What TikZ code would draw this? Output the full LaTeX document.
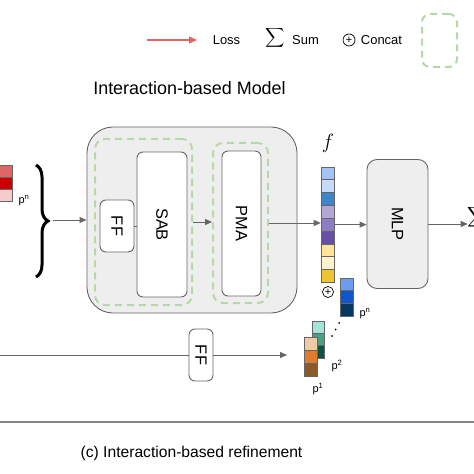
\documentclass[tikz,border=0pt]{standalone}
\usepackage{fontspec}
\setmainfont{Liberation Sans}
\usetikzlibrary{arrows.meta, calc, decorations.pathreplacing}

\definecolor{boxgray}{HTML}{EEEEEE}
\definecolor{linegray}{HTML}{666666}
\definecolor{dashgreen}{HTML}{B6D7A8}
\definecolor{lossred}{HTML}{E06666}

\newcommand{\bigsum}[1]{\scalebox{#1}{$\displaystyle\sum$}}

\tikzset{
  blk/.style={
    rectangle, draw=linegray, line width=0.9bp, rounded corners=6bp,
    fill=white, inner sep=0pt,
    font=\fontsize{16.5}{18}\selectfont
  },
  grp/.style={
    rectangle, draw=dashgreen, line width=2bp, rounded corners=10bp,
    dash pattern=on 7bp off 5bp, inner sep=0pt
  },
  cell/.style={
    rectangle, draw=linegray, line width=0.6bp, inner sep=0pt,
    minimum width=13bp, minimum height=12.8bp
  },
  arr/.style  = {-{Triangle[length=7bp, width=6bp]}, draw=linegray, line width=0.9bp},
  lossarr/.style = {-{Triangle[length=8bp, width=7bp]}, draw=lossred, line width=1.4bp},
  lbl/.style  = {inner sep=0pt, font=\fontsize{13}{15}\selectfont},
  sup/.style  = {inner sep=0pt, font=\fontsize{11}{12}\selectfont},
  oplus/.style = {circle, draw=black, line width=0.7bp, inner sep=0pt,
    minimum size=11bp, font=\fontsize{11}{11}\selectfont},
}

\begin{document}
\begin{tikzpicture}[x=1bp, y=-1bp]
\useasboundingbox (0,0) rectangle (474,474);
\clip (0,0) rectangle (474,474);

%% ── Legend ───────────────────────────────────────────────────────────────
\coordinate (LA) at (147,40);
\coordinate (LB) at (197,40);
\draw[lossarr] (LA) -- (LB);
\node[lbl] (LOSS) at (226.5,40) {Loss};
\node[inner sep=0pt] (SUMSYM) at (275.5,38) {\bigsum{1.35}};
\node[lbl] (SUM) at (305.5,40) {Sum};
\node[oplus, minimum size=12bp] (CATSYM) at (349,40) {+};
\node[lbl] (CAT) at (381.5,40) {Concat};
\node[grp, rounded corners=8bp, minimum width=35bp, minimum height=53bp] (GRPKEY) at (439.5,40.5) {};

%% ── Title ────────────────────────────────────────────────────────────────
\node[inner sep=0pt, font=\fontsize{18}{20}\selectfont] (TITLE) at (189.5,88) {Interaction-based Model};

%% ── Input set (left) ─────────────────────────────────────────────────────
\foreach \c [count=\i] in {E06666, CC0000, F4CCCC}{
  \definecolor{cc}{HTML}{\c}
  \node[cell, fill=cc, minimum height=12bp] (r\i) at (5.5, 165+12*\i-6) {};
}
\node[sup] (RN) at (24,201) {p\textsuperscript{n}};
\draw[decorate, decoration={brace, amplitude=12bp}, line width=3bp]
  (36,165) -- (36,277);
\coordinate (BRTIP) at (53,220);

%% ── Interaction-based model ──────────────────────────────────────────────
\node[blk, fill=boxgray, rounded corners=26bp, minimum width=210bp, minimum height=186bp] (OUT) at (192,220) {};
\node[grp, minimum width=97bp, minimum height=166bp] (G1) at (143.5,222) {};
\node[grp, minimum width=55bp, minimum height=160bp] (G2) at (240.5,223) {};
\node[blk, minimum width=50bp, minimum height=145bp] (SAB) at (162,224.5) {\rotatebox{-90}{SAB}};
\node[blk, minimum width=34bp, minimum height=52bp] (FF) at (117,226) {\rotatebox{-90}{FF}};
\node[blk, minimum width=39bp, minimum height=145bp] (PMA) at (241.5,223.5) {\rotatebox{-90}{PMA}};

\draw[arr] (BRTIP) -- (BRTIP -| OUT.west);
\draw[draw=linegray, line width=0.9bp] (FF.east) -- (FF.east -| SAB.west);
\draw[arr] (G1.east) -- (G1.east -| G2.west);

%% ── Set feature f ────────────────────────────────────────────────────────
\foreach \c [count=\i] in {A4C2F4, C9DAF8, 3D85C6, B4A7D6, 8E7CC3, 674EA7, FFE599, FFF2CC, F1C232}{
  \definecolor{cc}{HTML}{\c}
  \node[cell, fill=cc] (f\i) at (327.5, 167+12.8*\i-6.4) {};
}
\node[inner sep=0pt, font=\fontsize{21}{21}\selectfont] (FLBL) at (328,143) {$f$};
\draw[arr] (G2.east) -- (G2.east -| f5.west);

%% ── MLP ──────────────────────────────────────────────────────────────────
\node[blk, fill=boxgray, rounded corners=10bp, minimum width=61bp, minimum height=129bp] (MLP) at (397.5,224) {\rotatebox{-90}{MLP}};
\draw[arr] (f5.east) -- (f5.east -| MLP.west);
\node[inner sep=0pt] (SUMOUT) at (478,217) {\bigsum{1.4}};
\draw[arr] (MLP.east) -- (MLP.east -| SUMOUT.west);

%% ── Concat with refined points ───────────────────────────────────────────
\node[oplus] (CAT2) at (328,292) {+};
\foreach \c [count=\i] in {6D9EEB, 1155CC, 073763}{
  \definecolor{cc}{HTML}{\c}
  \node[cell, fill=cc, minimum height=12.7bp] (b\i) at (346.5, 278+12.7*\i-6.35) {};
}
\node[sup] (BN) at (365,314) {p\textsuperscript{n}};
\foreach \x/\y [count=\i] in {339/323, 335.5/329.5, 332/336}
  \node[circle, fill=black, inner sep=0pt, minimum size=2bp] (dot\i) at (\x,\y) {};
\foreach \c [count=\i] in {A2E4D8, 45A085, 0B5345}{
  \definecolor{cc}{HTML}{\c}
  \node[cell, fill=cc, minimum width=12bp, minimum height=12.3bp] (g\i) at (318, 321+12.3*\i-6.15) {};
}
\node[sup] (GN) at (337,366) {p\textsuperscript{2}};
\foreach \c [count=\i] in {F0C9A5, E07B2E, 8B5A2B}{
  \definecolor{cc}{HTML}{\c}
  \node[cell, fill=cc, minimum height=13bp] (o\i) at (310.5, 337+13*\i-6.5) {};
}
\node[sup] (ON) at (318,389) {p\textsuperscript{1}};

%% ── Point path through FF ────────────────────────────────────────────────
\node[blk, minimum width=24bp, minimum height=52bp] (FF2) at (201,355) {\rotatebox{-90}{FF}};
\coordinate (PIN) at (-2,355);
\coordinate (PEND) at (287,355);
\draw[draw=linegray, line width=0.9bp] (PIN) -- (FF2.west);
\draw[arr] (FF2.east) -- (PEND);

%% ── Rule and caption ─────────────────────────────────────────────────────
\draw[draw=linegray!80, line width=1.4bp] (0,422) -- (474,422);
\node[inner sep=0pt, font=\fontsize{15.7}{18}\selectfont] (CAP) at (191.5,453) {(c) Interaction-based refinement};

\end{tikzpicture}
\end{document}
